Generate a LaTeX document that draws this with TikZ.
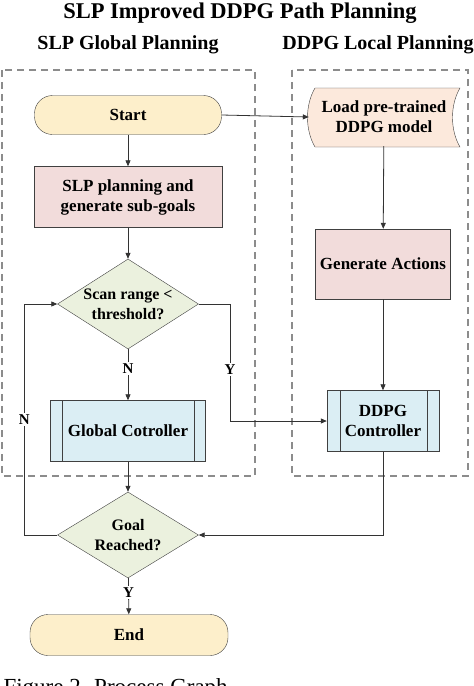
\documentclass[tikz,border=0pt]{standalone}
\usepackage{fontspec}
\setmainfont{Liberation Serif}
\usetikzlibrary{shapes.geometric,arrows.meta}
\definecolor{termfill}{HTML}{FDEFCB}
\definecolor{procfill}{HTML}{F2DCDB}
\definecolor{decfill}{HTML}{EBF1DE}
\definecolor{ctrlfill}{HTML}{DBEEF4}
\definecolor{loadfill}{HTML}{FCE9DC}
\definecolor{framegray}{HTML}{8C8C8C}

\begin{document}
\begin{tikzpicture}[
x=1pt,y=-1pt,
font=\bfseries\fontsize{17}{20}\selectfont,
line/.style={draw=black!80,line width=0.8pt},
arrow/.style={line,-{Triangle[length=6pt,width=5pt]}},
termbox/.style={draw=black!75,fill=termfill,rounded corners=18pt,minimum width=187pt,minimum height=39pt},
procbox/.style={draw=black!75,fill=procfill,minimum width=188pt,minimum height=61pt,align=center},
decbox/.style={diamond,draw=black!75,fill=decfill,minimum width=141pt,minimum height=90pt,inner sep=0pt,align=center,aspect=1.6,font=\bfseries\fontsize{16}{20}\selectfont},
ctrlbox/.style={draw=black!75,fill=ctrlfill,minimum height=61pt,align=center},
framebox/.style={draw=framegray,line width=1.4pt,dash pattern=on 7pt off 5pt},
lbl/.style={fill=white,inner sep=1.5pt,font=\bfseries\fontsize{15}{17}\selectfont}
]
\useasboundingbox (0,0) rectangle (474,686);

% headings
\node (title) at (240,13) {\fontsize{22.5}{24}\selectfont SLP Improved DDPG Path Planning};
\node (globhead) at (128,45) {\fontsize{20}{22}\selectfont SLP Global Planning};
\node (lochead) at (378,45) {\fontsize{20}{22}\selectfont DDPG Local Planning};

% dashed frames
\draw[framebox] (2,70) rectangle (255,476);
\draw[framebox] (292,70) rectangle (468,476);

% left column
\node[termbox] (start) at (128,115) {Start};
\node[procbox] (slp) at (128,197) {SLP planning and\\generate sub-goals};
\node[decbox] (scan) at (128,304) {Scan range <\\threshold?};
\node[ctrlbox,minimum width=155pt] (glob) at (128,431) {Global Cotroller};
\draw[black!75] ([xshift=12pt]glob.north west) -- ([xshift=12pt]glob.south west);
\draw[black!75] ([xshift=-12pt]glob.north east) -- ([xshift=-12pt]glob.south east);
\node[decbox,minimum height=86pt] (goal) at (128,535) {Goal\\Reached?};
\node[termbox,minimum width=198pt,minimum height=41pt] (end) at (129,635) {End};

% right column
\fill[loadfill] (315,88) .. controls (305,105) and (305,130) .. (315,147) -- (460,147)
  .. controls (450,130) and (450,105) .. (460,88) -- cycle;
\draw[black!75] (315,88) .. controls (305,105) and (305,130) .. (315,147) -- (460,147)
  .. controls (450,130) and (450,105) .. (460,88) -- cycle;
\node[minimum width=150pt,minimum height=58pt,align=center] (load) at (384,117) {Load pre-trained\\DDPG model};
\node[procbox,minimum width=135pt,minimum height=70pt] (act) at (383,264) {Generate Actions};
\node[ctrlbox,minimum width=112pt] (ddpg) at (383,421) {DDPG\\Controller};
\draw[black!75] ([xshift=13pt]ddpg.north west) -- ([xshift=13pt]ddpg.south west);
\draw[black!75] ([xshift=-12pt]ddpg.north east) -- ([xshift=-12pt]ddpg.south east);

% connectors
\coordinate (yturn) at (230,421);
\draw[arrow] (start) -- (slp);
\draw[arrow] (slp) -- (scan);
\draw[arrow] (scan) -- node[lbl,pos=0.38]{N} (glob);
\draw[arrow] (glob) -- (goal);
\draw[arrow] (goal) -- node[lbl,pos=0.4]{Y} (end);
\draw[arrow] (start.east) -- (load.west);
\draw[arrow] (load) -- (act);
\draw[arrow] (act) -- (ddpg);
\draw[arrow] (scan.east) -| node[lbl,pos=0.78]{Y} (yturn) -- (ddpg.west);
\draw[arrow] (ddpg.south) |- (goal.east);
\draw[arrow] (goal.west) -- ++(-33,0) |- node[lbl,pos=0.25]{N} (scan.west);

% caption, cut by the page edge
\node[anchor=base west,font=\fontsize{23}{25}\selectfont] (caption) at (0,694) {Figure 2. Process Graph};
\end{tikzpicture}
\end{document}
